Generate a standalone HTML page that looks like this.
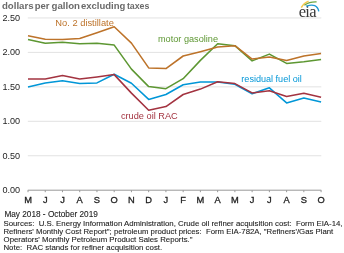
<!DOCTYPE html>
<html><head><meta charset="utf-8"><style>
html,body{margin:0;padding:0;background:#fff;width:344px;height:253px;overflow:hidden}
svg{display:block;will-change:transform}
text{font-family:"Liberation Sans",sans-serif;white-space:pre}
.yl{font-size:9.9px;fill:#1e1e1e}
.ml{font-size:9.3px;fill:#222;stroke:#222;stroke-width:0.3}
</style></head><body>
<svg width="344" height="253" viewBox="0 0 344 253">
<line x1="27.8" x2="321.3" y1="17.95" y2="17.95" stroke="#e2e2e2" stroke-width="1"/>
<line x1="27.8" x2="321.3" y1="52.40" y2="52.40" stroke="#e2e2e2" stroke-width="1"/>
<line x1="27.8" x2="321.3" y1="86.85" y2="86.85" stroke="#e2e2e2" stroke-width="1"/>
<line x1="27.8" x2="321.3" y1="121.30" y2="121.30" stroke="#e2e2e2" stroke-width="1"/>
<line x1="27.8" x2="321.3" y1="155.75" y2="155.75" stroke="#e2e2e2" stroke-width="1"/>

<line x1="27.8" x2="321.3" y1="190.2" y2="190.2" stroke="#999" stroke-width="1"/>
<line x1="28.00" x2="28.00" y1="190.2" y2="192.2" stroke="#999" stroke-width="1"/>
<line x1="45.24" x2="45.24" y1="190.2" y2="192.2" stroke="#999" stroke-width="1"/>
<line x1="62.48" x2="62.48" y1="190.2" y2="192.2" stroke="#999" stroke-width="1"/>
<line x1="79.72" x2="79.72" y1="190.2" y2="192.2" stroke="#999" stroke-width="1"/>
<line x1="96.96" x2="96.96" y1="190.2" y2="192.2" stroke="#999" stroke-width="1"/>
<line x1="114.20" x2="114.20" y1="190.2" y2="192.2" stroke="#999" stroke-width="1"/>
<line x1="131.44" x2="131.44" y1="190.2" y2="192.2" stroke="#999" stroke-width="1"/>
<line x1="148.68" x2="148.68" y1="190.2" y2="192.2" stroke="#999" stroke-width="1"/>
<line x1="165.92" x2="165.92" y1="190.2" y2="192.2" stroke="#999" stroke-width="1"/>
<line x1="183.16" x2="183.16" y1="190.2" y2="192.2" stroke="#999" stroke-width="1"/>
<line x1="200.40" x2="200.40" y1="190.2" y2="192.2" stroke="#999" stroke-width="1"/>
<line x1="217.64" x2="217.64" y1="190.2" y2="192.2" stroke="#999" stroke-width="1"/>
<line x1="234.88" x2="234.88" y1="190.2" y2="192.2" stroke="#999" stroke-width="1"/>
<line x1="252.12" x2="252.12" y1="190.2" y2="192.2" stroke="#999" stroke-width="1"/>
<line x1="269.36" x2="269.36" y1="190.2" y2="192.2" stroke="#999" stroke-width="1"/>
<line x1="286.60" x2="286.60" y1="190.2" y2="192.2" stroke="#999" stroke-width="1"/>
<line x1="303.84" x2="303.84" y1="190.2" y2="192.2" stroke="#999" stroke-width="1"/>
<line x1="321.08" x2="321.08" y1="190.2" y2="192.2" stroke="#999" stroke-width="1"/>

<text x="2.4" y="20.75" class="yl" textLength="17.7" lengthAdjust="spacingAndGlyphs">2.50</text>
<text x="2.4" y="55.20" class="yl" textLength="17.7" lengthAdjust="spacingAndGlyphs">2.00</text>
<text x="2.4" y="89.65" class="yl" textLength="17.7" lengthAdjust="spacingAndGlyphs">1.50</text>
<text x="2.4" y="124.10" class="yl" textLength="17.7" lengthAdjust="spacingAndGlyphs">1.00</text>
<text x="2.4" y="158.55" class="yl" textLength="17.7" lengthAdjust="spacingAndGlyphs">0.50</text>
<text x="2.4" y="193.00" class="yl" textLength="17.7" lengthAdjust="spacingAndGlyphs">0.00</text>

<text x="28.00" y="203.1" class="ml" text-anchor="middle">M</text>
<text x="45.24" y="203.1" class="ml" text-anchor="middle">J</text>
<text x="62.48" y="203.1" class="ml" text-anchor="middle">J</text>
<text x="79.72" y="203.1" class="ml" text-anchor="middle">A</text>
<text x="96.96" y="203.1" class="ml" text-anchor="middle">S</text>
<text x="114.20" y="203.1" class="ml" text-anchor="middle">O</text>
<text x="131.44" y="203.1" class="ml" text-anchor="middle">N</text>
<text x="148.68" y="203.1" class="ml" text-anchor="middle">D</text>
<text x="165.92" y="203.1" class="ml" text-anchor="middle">J</text>
<text x="183.16" y="203.1" class="ml" text-anchor="middle">F</text>
<text x="200.40" y="203.1" class="ml" text-anchor="middle">M</text>
<text x="217.64" y="203.1" class="ml" text-anchor="middle">A</text>
<text x="234.88" y="203.1" class="ml" text-anchor="middle">M</text>
<text x="252.12" y="203.1" class="ml" text-anchor="middle">J</text>
<text x="269.36" y="203.1" class="ml" text-anchor="middle">J</text>
<text x="286.60" y="203.1" class="ml" text-anchor="middle">A</text>
<text x="303.84" y="203.1" class="ml" text-anchor="middle">S</text>
<text x="321.08" y="203.1" class="ml" text-anchor="middle">O</text>

<polyline points="28.00,39.60 45.24,43.30 62.48,42.20 79.72,43.70 96.96,43.30 114.20,45.10 131.44,69.10 148.68,86.60 165.92,88.70 183.16,78.70 200.40,60.40 217.64,43.70 234.88,45.70 252.12,60.90 269.36,54.10 286.60,63.40 303.84,61.70 321.08,59.60" fill="none" stroke="#5d9732" stroke-width="1.55" stroke-linejoin="round"/>
<polyline points="28.00,35.70 45.24,39.20 62.48,39.60 79.72,38.50 96.96,32.80 114.20,26.70 131.44,43.10 148.68,67.90 165.92,68.60 183.16,56.00 200.40,51.70 217.64,47.00 234.88,45.70 252.12,59.10 269.36,57.00 286.60,60.50 303.84,56.10 321.08,53.50" fill="none" stroke="#bd732a" stroke-width="1.55" stroke-linejoin="round"/>
<polyline points="28.00,87.00 45.24,82.90 62.48,80.80 79.72,83.40 96.96,82.90 114.20,74.20 131.44,83.20 148.68,99.40 165.92,94.50 183.16,84.80 200.40,82.00 217.64,82.10 234.88,84.30 252.12,93.70 269.36,87.80 286.60,102.90 303.84,98.00 321.08,102.10" fill="none" stroke="#0096d7" stroke-width="1.55" stroke-linejoin="round"/>
<polyline points="28.00,78.90 45.24,78.90 62.48,75.60 79.72,78.90 96.96,76.90 114.20,74.60 131.44,93.10 148.68,110.30 165.92,106.60 183.16,94.50 200.40,89.10 217.64,81.70 234.88,83.60 252.12,92.90 269.36,90.70 286.60,96.40 303.84,93.20 321.08,97.30" fill="none" stroke="#a33340" stroke-width="1.55" stroke-linejoin="round"/>
<text x="1.95" y="9" style="font-size:8.5px;font-weight:bold" fill="#6a6a6a" textLength="31.63" lengthAdjust="spacingAndGlyphs">dollars</text>
<text x="34.7" y="9" style="font-size:8.5px;font-weight:bold" fill="#6a6a6a" textLength="14.82" lengthAdjust="spacingAndGlyphs">per</text>
<text x="51.475" y="9" style="font-size:8.5px;font-weight:bold" fill="#6a6a6a" textLength="28.48" lengthAdjust="spacingAndGlyphs">gallon</text>
<text x="80.95" y="9" style="font-size:8.5px;font-weight:bold" fill="#6a6a6a" textLength="44.37" lengthAdjust="spacingAndGlyphs">excluding</text>
<text x="126.875" y="9" style="font-size:8.5px;font-weight:bold" fill="#6a6a6a" textLength="22.57" lengthAdjust="spacingAndGlyphs">taxes</text>
<text x="55.3" y="25.7" style="font-size:9.5px;font-weight:normal" fill="#bd732a" textLength="58.60" lengthAdjust="spacingAndGlyphs">No. 2 distillate</text>
<text x="157.925" y="42.0" style="font-size:9.5px;font-weight:normal" fill="#5d9732" textLength="60.12" lengthAdjust="spacingAndGlyphs">motor gasoline</text>
<text x="241.325" y="82.3" style="font-size:9.5px;font-weight:normal" fill="#0096d7" textLength="60.52" lengthAdjust="spacingAndGlyphs">residual fuel oil</text>
<text x="120.95" y="119.3" style="font-size:9.5px;font-weight:normal" fill="#a33340" textLength="56.84" lengthAdjust="spacingAndGlyphs">crude oil RAC</text>
<text x="4.375" y="217.1" style="font-size:8.4px;font-weight:normal" fill="#222" stroke="#222" stroke-width="0.1" textLength="93.47" lengthAdjust="spacingAndGlyphs">May 2018 - October 2019</text>
<text x="3.45" y="226.1" style="font-size:8.0px;font-weight:normal" fill="#222" stroke="#222" stroke-width="0.1" textLength="339.10" lengthAdjust="spacingAndGlyphs">Sources:  U.S. Energy Information Administration, Crude oil refiner acquisition cost:  Form EIA-14,</text>
<text x="3.425" y="234.0" style="font-size:8.0px;font-weight:normal" fill="#222" stroke="#222" stroke-width="0.1" textLength="329.83" lengthAdjust="spacingAndGlyphs">Refiners' Monthly Cost Report"; petroleum product prices:  Form EIA-782A, "Refiners'/Gas Plant</text>
<text x="3.575" y="241.9" style="font-size:8.0px;font-weight:normal" fill="#222" stroke="#222" stroke-width="0.1" textLength="188.93" lengthAdjust="spacingAndGlyphs">Operators' Monthly Petroleum Product Sales Reports."</text>
<text x="3.425" y="250.1" style="font-size:8.0px;font-weight:normal" fill="#222" stroke="#222" stroke-width="0.1" textLength="158.78" lengthAdjust="spacingAndGlyphs">Note:  RAC stands for refiner acquisition cost.</text>

<g>
<text x="298.7" y="16.5" style="font-family:'Liberation Serif';font-size:16.5px;letter-spacing:-0.7px" fill="#383838">eia</text>
<path d="M301.3,7.6 Q303.5,3.2 308.6,1.1" fill="none" stroke="#f7c84c" stroke-width="1.5"/>
<path d="M304.4,5.2 Q309.5,1.6 316.6,1.9" fill="none" stroke="#6ea644" stroke-width="1.3"/>
<path d="M306.2,6.2 Q317,2.6 318.8,11.4" fill="none" stroke="#1f9ad6" stroke-width="1.4"/>
</g>
</svg>
</body></html>
